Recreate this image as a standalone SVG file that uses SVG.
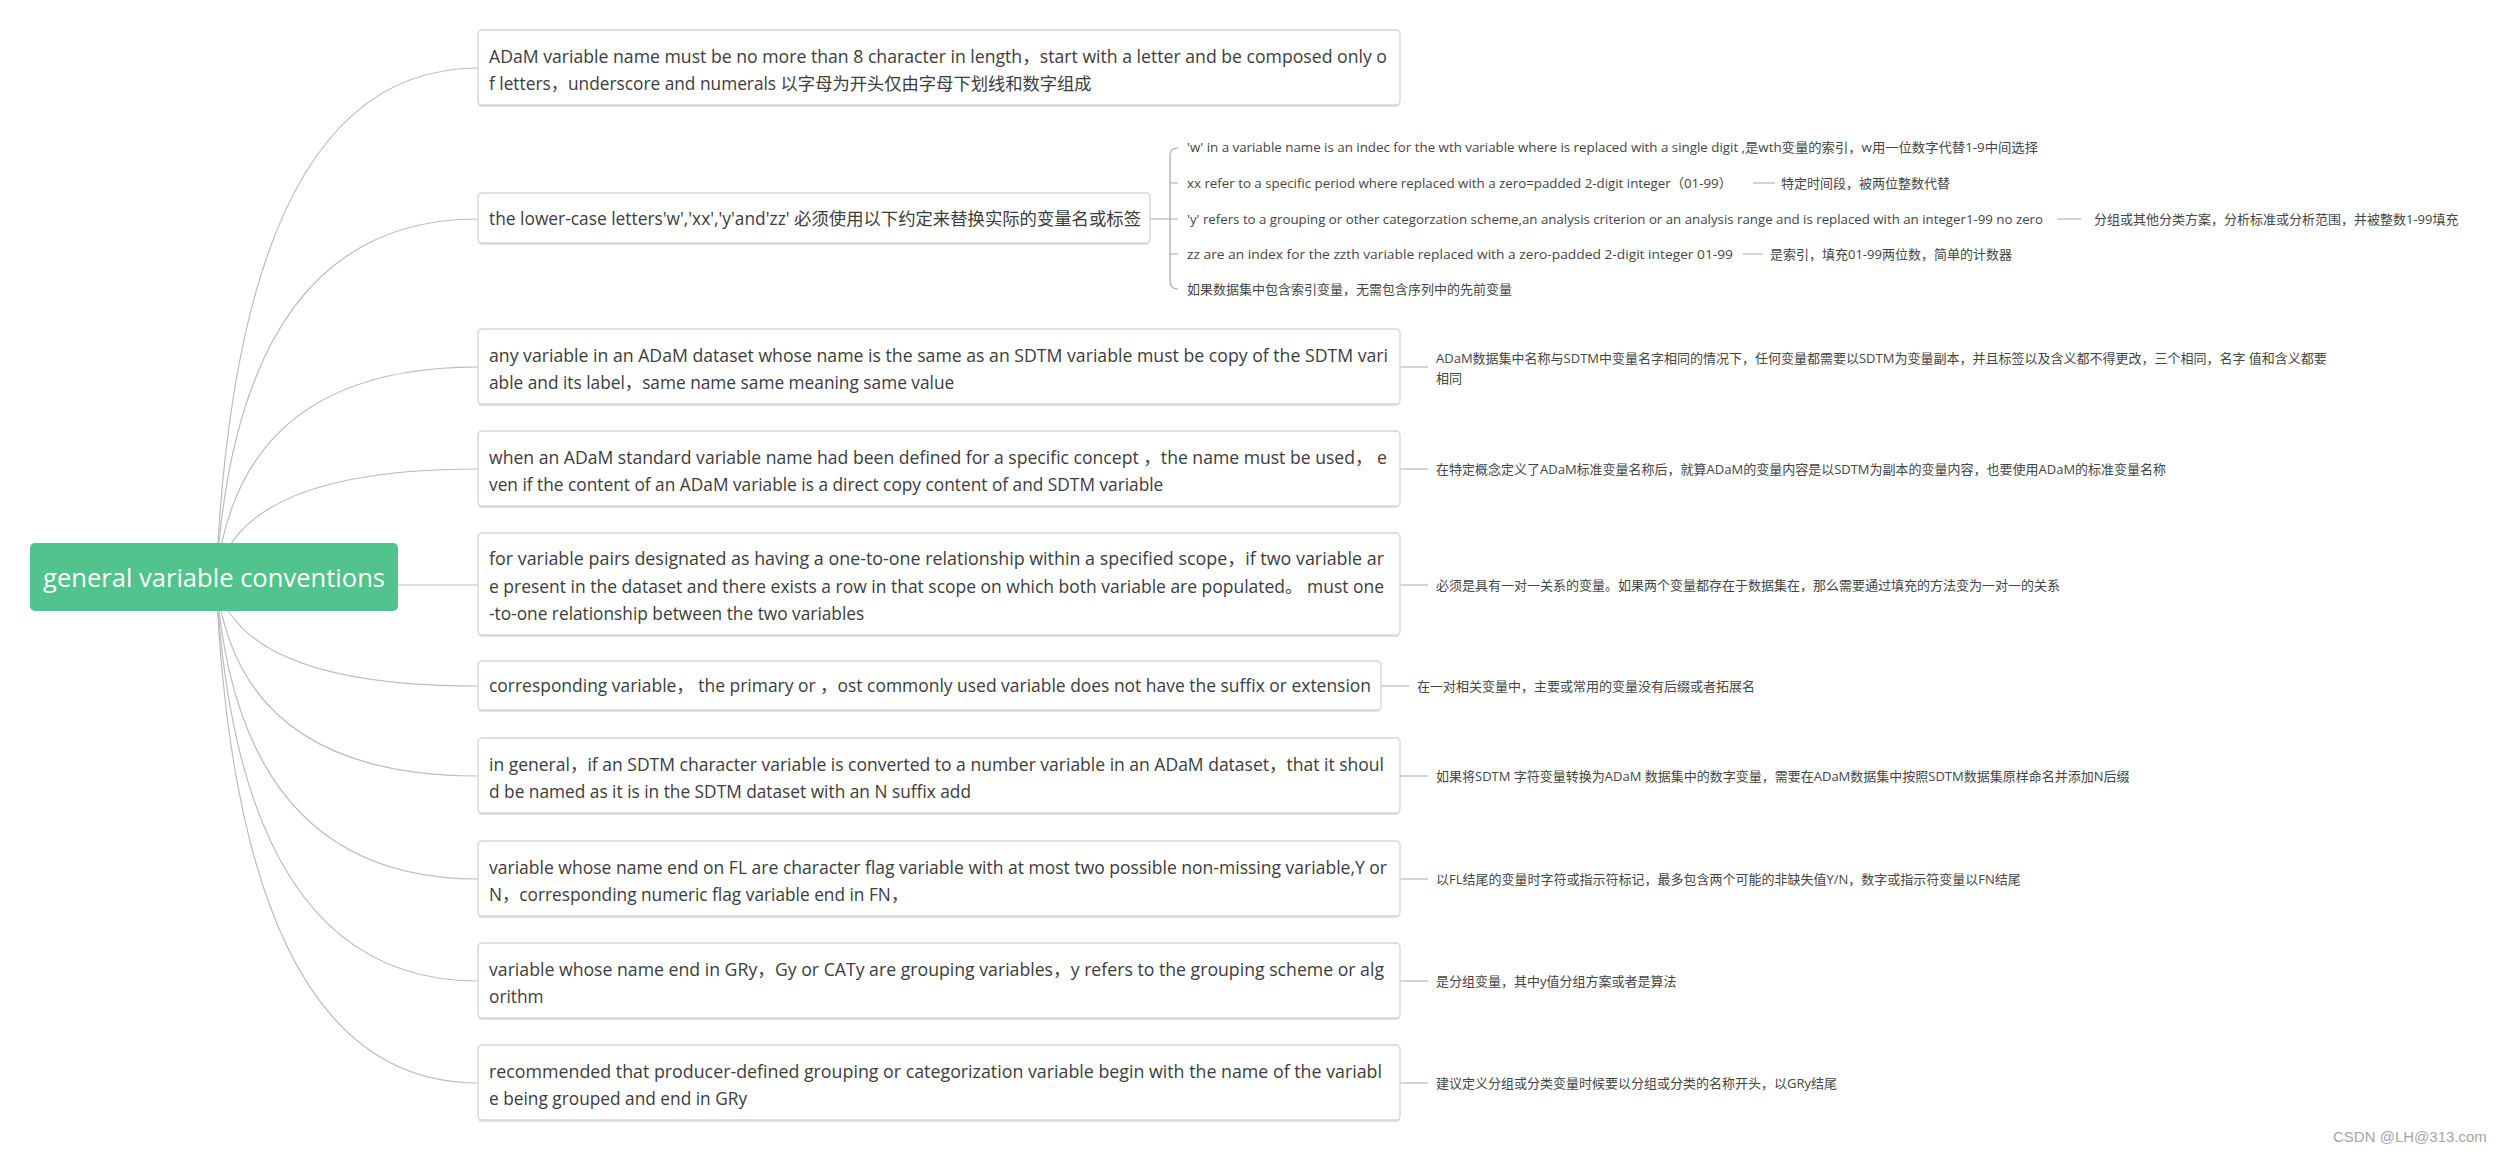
<svg xmlns="http://www.w3.org/2000/svg" width="2505" height="1151" viewBox="0 0 2505 1151">
<style>
text{font-family:"Open Sans","Noto Sans CJK SC",sans-serif;fill:#3c3c3c}
.t{font-size:17.3px}
.s{font-size:13px;fill:#454545}
.box{fill:#fff;stroke:#d5d5d5;stroke-width:1.3}
.sh{fill:#e2e2e2}
.c path{fill:none;stroke:#bcbcbc;stroke-width:1.2}
.c2 path{fill:none;stroke:#a8a8a8;stroke-width:1.2}
.root{fill:#51c38c}
.rt{font-size:25px;fill:#fff}
.wm{font-family:"Liberation Sans",sans-serif;font-size:15px;fill:#a6a6a6}
</style>
<rect width="2505" height="1151" fill="#fff"/>
<g class="c" id="connectors">
<path d="M216 580 Q238 68 478 68"/>
<path d="M216 580 Q238 219 478 219"/>
<path d="M216 580 Q238 367 478 367"/>
<path d="M216 580 Q238 469 478 469"/>
<path d="M398 585 H478"/>
<path d="M216 580 Q238 686 478 686"/>
<path d="M216 580 Q238 776 478 776"/>
<path d="M216 580 Q238 879 478 879"/>
<path d="M216 580 Q238 981 478 981"/>
<path d="M216 580 Q238 1083 478 1083"/>
</g>
<g class="c2" id="sub-connectors">
<path d="M1150 219 H1170 M1178 148 Q1170 148 1170 156 V281 Q1170 289 1178 289 M1170 183 H1178 M1170 219 H1178 M1170 254 H1178"/>
<path d="M1753 183 H1775 M2057 219 H2081 M1743 254 H1763"/>
<path d="M1400 367 H1428 M1400 469 H1428 M1400 585 H1428 M1381 686 H1409 M1400 776 H1428 M1400 879 H1428 M1400 981 H1428 M1400 1083 H1428"/>
</g>
<g id="root">
<rect class="root" x="30" y="543" width="368" height="68" rx="5"/>
<text class="rt" x="43" y="587" textLength="342" lengthAdjust="spacingAndGlyphs">general variable conventions</text>
</g>
<g id="n1">
<rect class="sh" x="478" y="31" width="922" height="76" rx="4"/>
<rect class="box" x="478" y="30" width="922" height="75" rx="4"/>
<text class="t" x="489" y="63" textLength="898" lengthAdjust="spacingAndGlyphs">ADaM variable name must be no more than 8 character in length，start with a letter and be composed only o</text>
<text class="t" x="489" y="90">f letters，underscore and numerals 以字母为开头仅由字母下划线和数字组成</text>
</g>
<g id="n2">
<rect class="sh" x="478" y="194" width="672" height="51" rx="4"/>
<rect class="box" x="478" y="193" width="672" height="50" rx="4"/>
<text class="t" x="489" y="225" textLength="652" lengthAdjust="spacingAndGlyphs">the lower-case letters'w','xx','y'and'zz' 必须使用以下约定来替换实际的变量名或标签</text>
</g>
<g id="n2-1"><text class="s" x="1187" y="152" textLength="851" lengthAdjust="spacingAndGlyphs">'w' in a variable name is an indec for the wth variable where is replaced with a single digit ,是wth变量的索引，w用一位数字代替1-9中间选择</text></g>
<g id="n2-2"><text class="s" x="1187" y="188" textLength="545" lengthAdjust="spacingAndGlyphs">xx refer to a specific period where replaced with a zero=padded 2-digit integer（01-99）</text></g>
<g id="n2-2a"><text class="s" x="1781" y="188">特定时间段，被两位整数代替</text></g>
<g id="n2-3"><text class="s" x="1187" y="224" textLength="856" lengthAdjust="spacingAndGlyphs">'y' refers to a grouping or other categorzation scheme,an analysis criterion or an analysis range and is replaced with an integer1-99 no zero</text></g>
<g id="n2-3a"><text class="s" x="2094" y="224">分组或其他分类方案，分析标准或分析范围，并被整数1-99填充</text></g>
<g id="n2-4"><text class="s" x="1187" y="259" textLength="546" lengthAdjust="spacingAndGlyphs">zz are an index for the zzth variable replaced with a zero-padded 2-digit integer 01-99</text></g>
<g id="n2-4a"><text class="s" x="1770" y="259">是索引，填充01-99两位数，简单的计数器</text></g>
<g id="n2-5"><text class="s" x="1187" y="294">如果数据集中包含索引变量，无需包含序列中的先前变量</text></g>
<g id="n3">
<rect class="sh" x="478" y="330" width="922" height="76" rx="4"/>
<rect class="box" x="478" y="329" width="922" height="75" rx="4"/>
<text class="t" x="489" y="362" textLength="899" lengthAdjust="spacingAndGlyphs">any variable in an ADaM dataset whose name is the same as an SDTM variable must be copy of the SDTM vari</text>
<text class="t" x="489" y="389">able and its label，same name same meaning same value</text>
</g>
<g id="n3a">
<text class="s" x="1436" y="363">ADaM数据集中名称与SDTM中变量名字相同的情况下，任何变量都需要以SDTM为变量副本，并且标签以及含义都不得更改，三个相同，名字 值和含义都要</text>
<text class="s" x="1436" y="383">相同</text>
</g>
<g id="n4">
<rect class="sh" x="478" y="432" width="922" height="76" rx="4"/>
<rect class="box" x="478" y="431" width="922" height="75" rx="4"/>
<text class="t" x="489" y="464" textLength="898" lengthAdjust="spacingAndGlyphs">when an ADaM standard variable name had been defined for a specific concept ，the name must be used，  e</text>
<text class="t" x="489" y="491">ven if the content of an ADaM variable is a direct copy content of and SDTM variable</text>
</g>
<g id="n4a"><text class="s" x="1436" y="474">在特定概念定义了ADaM标准变量名称后，就算ADaM的变量内容是以SDTM为副本的变量内容，也要使用ADaM的标准变量名称</text></g>
<g id="n5">
<rect class="sh" x="478" y="534" width="922" height="103" rx="4"/>
<rect class="box" x="478" y="533" width="922" height="102" rx="4"/>
<text class="t" x="489" y="565" textLength="895" lengthAdjust="spacingAndGlyphs">for variable pairs designated as having a one-to-one relationship within a specified scope，if two variable ar</text>
<text class="t" x="489" y="593" textLength="895" lengthAdjust="spacingAndGlyphs">e present in the dataset and there exists a row in that scope on which both variable are populated。 must one</text>
<text class="t" x="489" y="620">-to-one relationship between the two variables</text>
</g>
<g id="n5a"><text class="s" x="1436" y="590">必须是具有一对一关系的变量。如果两个变量都存在于数据集在，那么需要通过填充的方法变为一对一的关系</text></g>
<g id="n6">
<rect class="sh" x="478" y="662" width="903" height="50" rx="4"/>
<rect class="box" x="478" y="661" width="903" height="49" rx="4"/>
<text class="t" x="489" y="692" textLength="882" lengthAdjust="spacingAndGlyphs">corresponding variable， the primary or ，ost commonly used variable does not have the suffix or extension</text>
</g>
<g id="n6a"><text class="s" x="1417" y="691">在一对相关变量中，主要或常用的变量没有后缀或者拓展名</text></g>
<g id="n7">
<rect class="sh" x="478" y="739" width="922" height="76" rx="4"/>
<rect class="box" x="478" y="738" width="922" height="75" rx="4"/>
<text class="t" x="489" y="771" textLength="895" lengthAdjust="spacingAndGlyphs">in general，if an SDTM character variable is converted to a number variable in an ADaM dataset，that it shoul</text>
<text class="t" x="489" y="798">d be named as it is in the SDTM dataset with an N suffix add</text>
</g>
<g id="n7a"><text class="s" x="1436" y="781">如果将SDTM 字符变量转换为ADaM 数据集中的数字变量，需要在ADaM数据集中按照SDTM数据集原样命名并添加N后缀</text></g>
<g id="n8">
<rect class="sh" x="478" y="842" width="922" height="76" rx="4"/>
<rect class="box" x="478" y="841" width="922" height="75" rx="4"/>
<text class="t" x="489" y="874" textLength="898" lengthAdjust="spacingAndGlyphs">variable whose name end on FL are character flag variable with at most two possible non-missing variable,Y or</text>
<text class="t" x="489" y="901">N，corresponding numeric flag variable end in FN，</text>
</g>
<g id="n8a"><text class="s" x="1436" y="884">以FL结尾的变量时字符或指示符标记，最多包含两个可能的非缺失值Y/N，数字或指示符变量以FN结尾</text></g>
<g id="n9">
<rect class="sh" x="478" y="944" width="922" height="76" rx="4"/>
<rect class="box" x="478" y="943" width="922" height="75" rx="4"/>
<text class="t" x="489" y="976" textLength="895" lengthAdjust="spacingAndGlyphs">variable whose name end in GRy，Gy or CATy are grouping variables，y refers to the grouping scheme or alg</text>
<text class="t" x="489" y="1003">orithm</text>
</g>
<g id="n9a"><text class="s" x="1436" y="986">是分组变量，其中y值分组方案或者是算法</text></g>
<g id="n10">
<rect class="sh" x="478" y="1046" width="922" height="76" rx="4"/>
<rect class="box" x="478" y="1045" width="922" height="75" rx="4"/>
<text class="t" x="489" y="1078" textLength="893" lengthAdjust="spacingAndGlyphs">recommended that producer-defined grouping or categorization variable begin with the name of the variabl</text>
<text class="t" x="489" y="1105">e being grouped and end in GRy</text>
</g>
<g id="n10a"><text class="s" x="1436" y="1088">建议定义分组或分类变量时候要以分组或分类的名称开头，以GRy结尾</text></g>
<text class="wm" x="2333" y="1142">CSDN @LH@313.com</text>
</svg>
